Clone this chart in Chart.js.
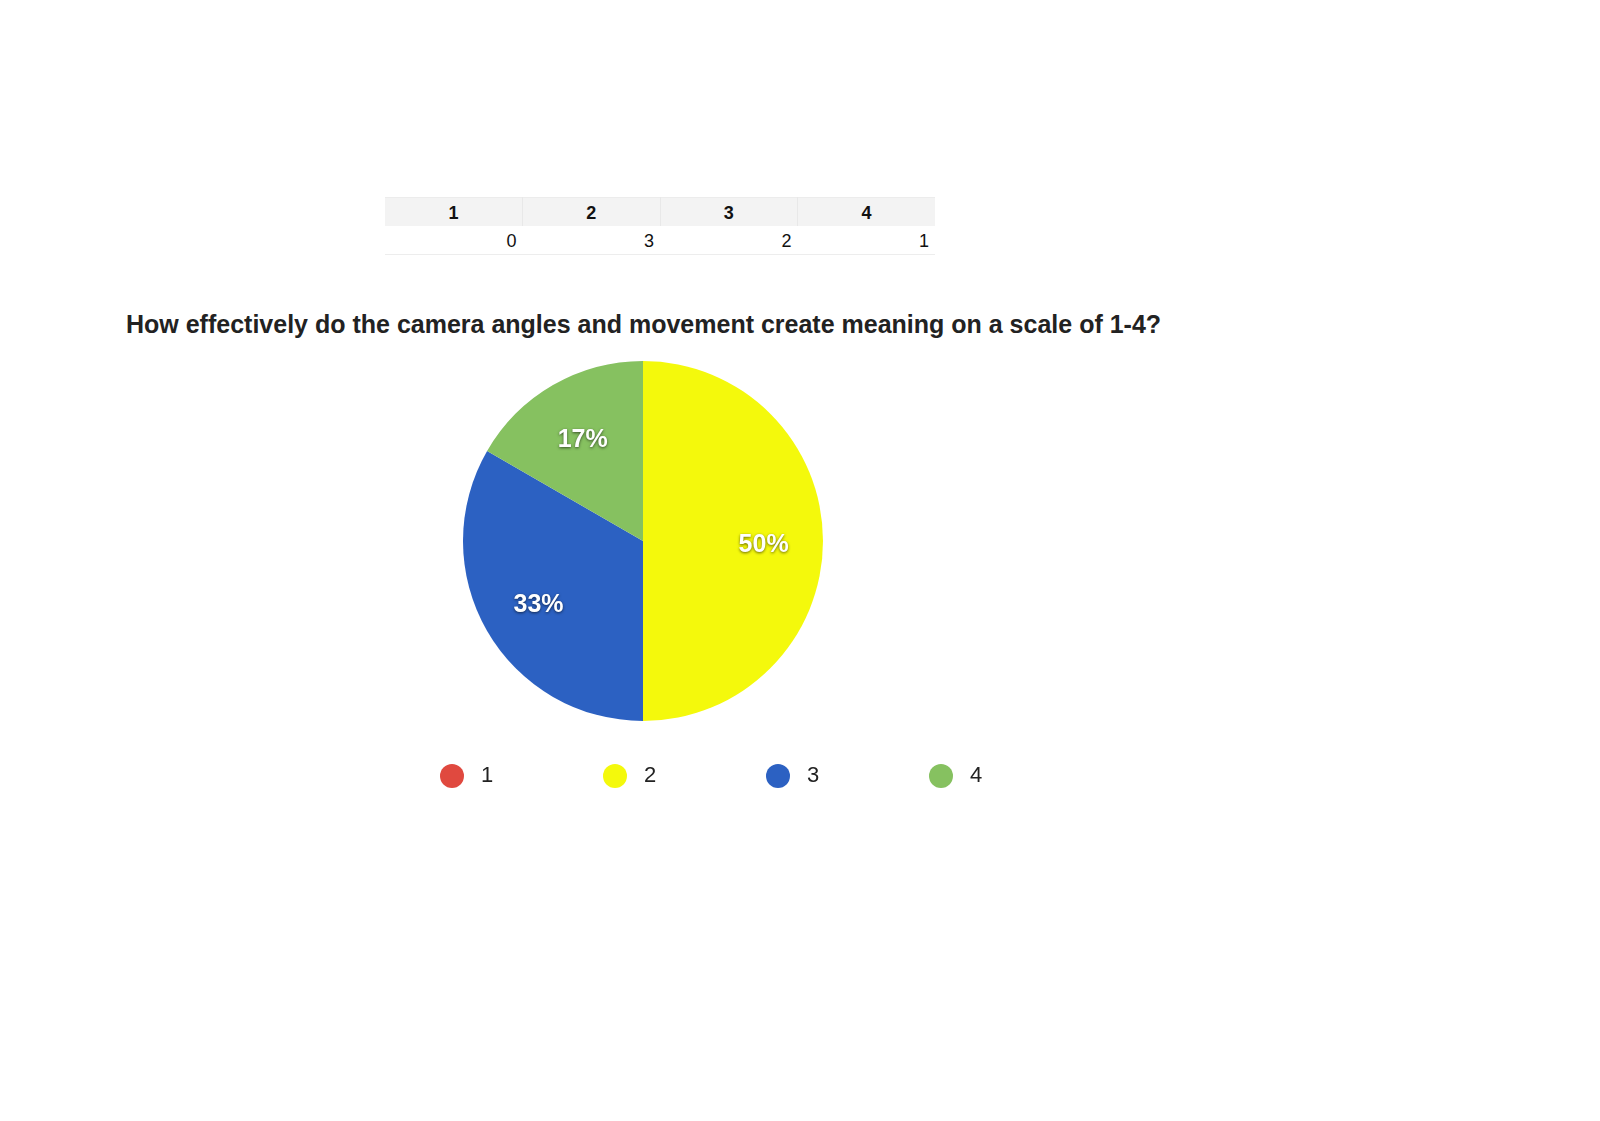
<!DOCTYPE html>
<html>
<head>
<meta charset="utf-8">
<script src="https://cdn.jsdelivr.net/npm/chart.js@4/dist/chart.umd.min.js"></script>
<style>
  html, body { margin: 0; padding: 0; background: #ffffff; }
  body { width: 1600px; height: 1121px; position: relative; overflow: hidden; font-family: "Liberation Sans", Arial, Helvetica, sans-serif; }
  #chart { position: absolute; left: 0; top: 0; width: 1600px; height: 1121px; }
  #tbl { position: absolute; left: 385px; top: 197px; border-collapse: collapse; }
  #tbl td { width: 137.5px; box-sizing: border-box; padding: 0; }
  #tbl tr.h td { height: 28px; background: #f3f3f3; text-align: center; font-weight: bold; font-size: 18px; color: #111; border-right: 1px solid #e8e8e8; border-top: 1px solid #ececec; padding-top: 3px; }
  #tbl tr.h td:last-child { border-right: none; }
  #tbl tr.v td { height: 29px; text-align: right; padding-right: 6px; padding-top: 3px; font-size: 18px; color: #111; border-bottom: 1px solid #ededed; }
  #title { position: absolute; left: 126px; top: 310px; font-weight: bold; color: #222; white-space: nowrap; }
</style>
</head>
<body>
<table id="tbl"><tbody><tr class="h"></tr><tr class="v"></tr></tbody></table>
<div id="title"></div>
<canvas id="chart" width="1600" height="1121"></canvas>
<script>
const titleText = 'How effectively do the camera angles and movement create meaning on a scale of 1-4?';
const categories = ['1', '2', '3', '4'];
const counts = [0, 3, 2, 1];
const sliceColors = ['#e0493f', '#f4f90c', '#2c61c2', '#86c160'];

// table
const hRow = document.querySelector('#tbl tr.h');
const vRow = document.querySelector('#tbl tr.v');
categories.forEach((c, i) => {
  const th = document.createElement('td'); th.textContent = c; hRow.appendChild(th);
  const tv = document.createElement('td'); tv.textContent = String(counts[i]); vRow.appendChild(tv);
});

// title, fitted to width
const titleEl = document.getElementById('title');
titleEl.textContent = titleText;
(function fitTitle() {
  const c = document.createElement('canvas').getContext('2d');
  c.font = 'bold 100px "Liberation Sans"';
  const w = c.measureText(titleText).width;
  const size = 100 * 1035 / w;
  titleEl.style.fontSize = size.toFixed(2) + 'px';
})();

const total = counts.reduce((a, b) => a + b, 0);

const sliceLabels = {
  id: 'sliceLabels',
  afterDatasetsDraw(chart) {
    const ctx = chart.ctx;
    const meta = chart.getDatasetMeta(0);
    meta.data.forEach((arc, i) => {
      const v = counts[i];
      if (!v) return;
      const p = arc.getProps(['x', 'y', 'startAngle', 'endAngle', 'outerRadius'], true);
      const mid = (p.startAngle + p.endAngle) / 2;
      const r = p.outerRadius * 0.67;
      const x = p.x + Math.cos(mid) * r;
      const y = p.y + Math.sin(mid) * r + 4;
      ctx.save();
      ctx.font = 'bold 25px "Liberation Sans"';
      ctx.textAlign = 'center';
      ctx.textBaseline = 'middle';
      ctx.shadowColor = 'rgba(0,0,0,0.6)';
      ctx.shadowBlur = 3;
      ctx.shadowOffsetX = 0;
      ctx.shadowOffsetY = 1;
      ctx.fillStyle = '#ffffff';
      ctx.fillText(Math.round(v / total * 100) + '%', x, y);
      ctx.restore();
    });
  }
};

const customLegend = {
  id: 'customLegend',
  afterDraw(chart) {
    const ctx = chart.ctx;
    const labels = chart.data.labels;
    const colors = chart.data.datasets[0].backgroundColor;
    const x0 = 452, step = 163, y = 776;
    labels.forEach((lab, i) => {
      const cx = x0 + i * step;
      ctx.save();
      ctx.fillStyle = colors[i];
      ctx.beginPath();
      ctx.arc(cx, y, 12, 0, Math.PI * 2);
      ctx.fill();
      ctx.fillStyle = '#222';
      ctx.font = '22px "Liberation Sans"';
      ctx.textAlign = 'left';
      ctx.textBaseline = 'middle';
      ctx.fillText(lab, cx + 29, y);
      ctx.restore();
    });
  }
};

new Chart(document.getElementById('chart'), {
  type: 'pie',
  data: {
    labels: categories,
    datasets: [{
      data: counts,
      backgroundColor: sliceColors,
      borderWidth: 0,
      hoverOffset: 0,
      offset: 0
    }]
  },
  options: {
    responsive: false,
    animation: false,
    radius: 180,
    layout: { padding: { left: 443, right: 757, top: 341, bottom: 380 } },
    plugins: {
      legend: { display: false },
      tooltip: { enabled: false },
      title: { display: false }
    }
  },
  plugins: [sliceLabels, customLegend]
});
</script>
</body>
</html>
